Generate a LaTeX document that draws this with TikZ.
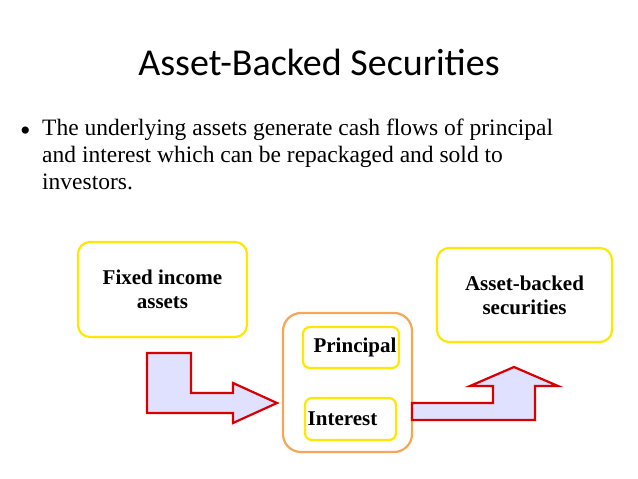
\documentclass[tikz,border=0pt]{standalone}
\usepackage{fontspec}
\setmainfont{Liberation Serif}
\newfontfamily\titlefont{Carlito}
\begin{document}
\begin{tikzpicture}[x=1pt,y=-1pt,
  ybox/.style={draw=yellow!90!orange,line width=2.2pt,rounded corners=12pt,fill=white},
  lbl/.style={font=\fontsize{21}{24}\selectfont\bfseries,align=center},
  fat/.style={draw=red!85!black,line width=2.2pt,fill=blue!12!white}]
\useasboundingbox (0,0) rectangle (638,479);
\node[font=\titlefont\fontsize{38}{44}\selectfont] (title) at (319,62) {Asset-Backed Securities};
\node[anchor=west,font=\fontsize{30}{30}\selectfont,inner sep=0] (dot) at (20,134) {•};
\node[anchor=north west,align=left,font=\fontsize{23.5}{27}\selectfont,inner sep=0] (bul) at (42,119)
 {The underlying assets generate cash flows of principal\\and interest which can be repackaged and sold to\\investors.};
\node[ybox,minimum width=169pt,minimum height=95pt,lbl] (fixed) at (162.5,289.5) {Fixed income\\assets};
\node[ybox,minimum width=175pt,minimum height=94pt,lbl] (abs) at (524.5,295) {Asset-backed\\securities};
\node[draw=orange!80!brown!70,line width=2.2pt,rounded corners=18pt,minimum width=129pt,minimum height=139pt] (pool) at (347.5,382.5) {};
\node[ybox,rounded corners=7pt,minimum width=96pt,minimum height=41pt,lbl,inner sep=0] (prin) at (351,347.5) {\hspace{8pt}Principal};
\node[ybox,rounded corners=7pt,minimum width=91pt,minimum height=42pt,lbl,inner sep=0] (int) at (350.5,419) {Interest\hspace{16pt}};
\draw[fat] (147,353) -- (191,353) -- (191,393) -- (233,393) -- (233,383) -- (277,403) -- (233,423) -- (233,413) -- (147,413) -- cycle;
\draw[fat] (412,403) -- (493,403) -- (493,386) -- (470,386) -- (514,367) -- (558,386) -- (535,386) -- (535,420) -- (412,420) -- cycle;
\end{tikzpicture}
\end{document}
